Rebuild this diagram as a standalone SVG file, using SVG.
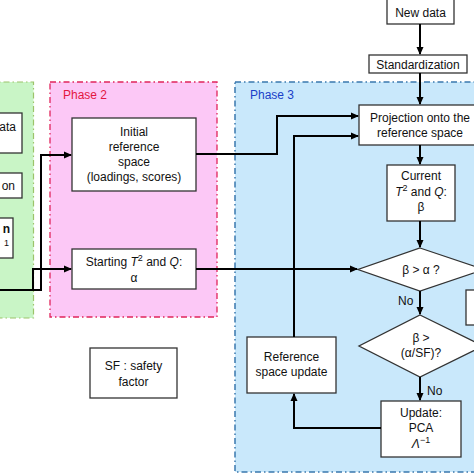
<svg xmlns="http://www.w3.org/2000/svg" width="474" height="474" viewBox="0 0 474 474">
<defs>
<marker id="ah" markerWidth="8" markerHeight="8" refX="7" refY="4" orient="auto" markerUnits="userSpaceOnUse">
<path d="M0,0.5 L8,4 L0,7.5 Z" fill="#000"/>
</marker>
<style>
text{font-family:"Liberation Sans",Arial,sans-serif;font-size:12px;fill:#111;}
.box{fill:#fff;stroke:#333;stroke-width:1.3;}
.c{text-anchor:middle;}
.e{text-anchor:end;}
.it{font-style:italic;}
.con{fill:none;stroke:#000;stroke-width:2;}
.arr{marker-end:url(#ah);}
</style>
</defs>
<rect width="474" height="474" fill="#fff"/>
<g id="phase1">
<rect x="-10" y="82" width="43.5" height="236" fill="#c9f5c6" stroke="#9cc36a" stroke-width="1.2" stroke-dasharray="6,3,1.5,3"/>
</g>
<g id="phase2">
<rect x="50" y="82" width="167" height="235" fill="#fcc8f6" stroke="#e0245c" stroke-width="1.3" stroke-dasharray="6,3,1.5,3"/>
<text x="63" y="99" style="fill:#e3163f">Phase 2</text>
</g>
<g id="phase3">
<rect x="235" y="82" width="250" height="390" fill="#c9e8fb" stroke="#3a78ae" stroke-width="1.5" stroke-dasharray="6,3,1.5,3"/>
<text x="250" y="99" style="fill:#1a3fc8">Phase 3</text>
</g>
<g id="p1data">
<rect class="box" x="-10" y="113" width="32" height="40"/>
<text class="e" x="16" y="131">ata</text>
</g>
<g id="p1std">
<rect class="box" x="-10" y="173" width="32" height="25"/>
<text class="e" x="15" y="190">on</text>
</g>
<g id="p1pca">
<rect class="box" x="-10" y="218" width="23" height="40"/>
<text class="e" x="10" y="233" style="font-weight:bold">n</text>
<text class="e" x="9" y="246" style="font-size:9px">1</text>
</g>
<g id="initial">
<rect class="box" x="72" y="118" width="124" height="73"/>
<text class="c" x="134" y="136">Initial</text>
<text class="c" x="134" y="151">reference</text>
<text class="c" x="134" y="166">space</text>
<text class="c" x="134" y="181">(loadings, scores)</text>
</g>
<g id="starting">
<rect class="box" x="72" y="249" width="124" height="40"/>
<text class="c" x="134" y="266">Starting <tspan class="it">T</tspan><tspan dy="-5" style="font-size:9px">2</tspan><tspan dy="5"> and </tspan><tspan class="it">Q</tspan>:</text>
<text class="c" x="134" y="282">α</text>
</g>
<g id="sf">
<rect class="box" x="90" y="348" width="87" height="50"/>
<text class="c" x="133.5" y="370">SF : safety</text>
<text class="c" x="133.5" y="386">factor</text>
</g>
<g id="newdata">
<rect class="box" x="387" y="-3" width="67" height="27"/>
<text class="c" x="420.5" y="17">New data</text>
</g>
<g id="standardization">
<rect class="box" x="369" y="55" width="98" height="18"/>
<text class="c" x="418" y="69">Standardization</text>
</g>
<g id="projection">
<rect class="box" x="359" y="105" width="124" height="40"/>
<text class="c" x="420" y="122">Projection onto the</text>
<text class="c" x="420" y="137">reference space</text>
</g>
<g id="current">
<rect class="box" x="387" y="165" width="68" height="56"/>
<text class="c" x="421" y="180">Current</text>
<text class="c" x="421" y="196"><tspan class="it">T</tspan><tspan dy="-5" style="font-size:9px">2</tspan><tspan dy="5"> and </tspan><tspan class="it">Q</tspan>:</text>
<text class="c" x="421" y="211">β</text>
</g>
<g id="check1">
<polygon class="box" points="420,248 484,269.5 420,291 358,269.5"/>
<text class="c" x="421" y="274">β &gt; α ?</text>
</g>
<g id="rightbox">
<rect class="box" x="466" y="290" width="20" height="35"/>
</g>
<g id="check2">
<polygon class="box" points="420,315 483,346 420,377 359,346"/>
<text class="c" x="421" y="342">β &gt;</text>
<text class="c" x="421" y="357">(α/SF)?</text>
</g>
<g id="update">
<rect class="box" x="381" y="401" width="80" height="56"/>
<text class="c" x="421" y="417">Update:</text>
<text class="c" x="421" y="432">PCA</text>
<text class="c" x="421" y="448"><tspan class="it">Λ</tspan><tspan dy="-5" style="font-size:9px">−1</tspan></text>
</g>
<g id="refupdate">
<rect class="box" x="247" y="337" width="89" height="56"/>
<text class="c" x="291.5" y="361">Reference</text>
<text class="c" x="291.5" y="376">space update</text>
</g>
<g id="connectors">
<path class="con arr" d="M-2,290 H41 V155 H71"/>
<path class="con arr" d="M33,290 V269 H71"/>
<path class="con arr" d="M196,154 H277 V116 H358"/>
<path class="con arr" d="M196,269 H357"/>
<path class="con arr" d="M294,337 V136 H358"/>
<path class="con arr" d="M420,24 V54"/>
<path class="con arr" d="M420,73 V104"/>
<path class="con arr" d="M420,145 V164"/>
<path class="con arr" d="M420,221 V247"/>
<path class="con arr" d="M420,291 V314"/>
<path class="con arr" d="M420,377 V400"/>
<path class="con arr" d="M381,428 H294 V394"/>
<text x="398" y="305">No</text>
<text x="427" y="395">No</text>
</g>
</svg>
